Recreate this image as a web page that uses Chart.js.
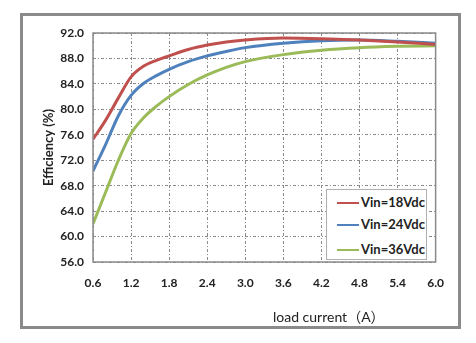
<!DOCTYPE html>
<html>
<head>
<meta charset="utf-8">
<script src="https://cdn.jsdelivr.net/npm/chart.js@4/dist/chart.umd.min.js"></script>
<style>
  body { margin: 0; background: #fff; width: 476px; height: 343px; position: relative; overflow: hidden; }
  #frame { position: absolute; left: 20px; top: 13px; width: 441px; height: 316px; border: 3px solid #8a8a8a; box-sizing: border-box; }
  #xtitle { position: absolute; left: 273px; top: 306px; font: 14px Lato, "Noto Sans CJK SC", sans-serif; color: #222; white-space: nowrap; }
  #legend { position: absolute; left: 326px; top: 189px; width: 101px; height: 71px; background: #fff; border: 1px solid #b0b0b0; box-sizing: border-box; }
  #legend .row { position: absolute; left: 10px; height: 16px; font: bold 13px Lato, sans-serif; color: #222; white-space: nowrap; }
  #legend .swatch { display: inline-block; width: 22px; height: 2px; vertical-align: middle; margin-right: 2px; position: relative; top: -1px; }
</style>
</head>
<body>
<div id="frame"><canvas id="efficiency" width="435" height="310"></canvas></div>
<div id="legend"></div>
<div id="xtitle">load current（A）</div>
<script>
const loadCurrent = [0.6, 0.8, 1.0, 1.2, 1.4, 1.6, 1.8, 2.1, 2.4, 2.7, 3.0, 3.6, 4.2, 4.8, 5.4, 6.0];
const vin18 = [75.3, 78.3, 81.8, 85.1, 86.8, 87.7, 88.4, 89.4, 90.1, 90.6, 90.9, 91.2, 91.1, 90.9, 90.6, 90.2];
const vin24 = [70.3, 74.5, 79.0, 82.2, 84.1, 85.3, 86.3, 87.5, 88.4, 89.1, 89.7, 90.4, 90.8, 90.9, 90.7, 90.4];
const vin36 = [62.0, 67.0, 72.0, 76.2, 78.7, 80.5, 82.0, 83.9, 85.4, 86.6, 87.5, 88.6, 89.3, 89.7, 89.9, 90.0];
const seriesNames = ['Vin=18Vdc', 'Vin=24Vdc', 'Vin=36Vdc'];
const seriesColors = ['#c0504d', '#4f81bd', '#9bbb59'];
const xTicks = [0.6, 1.2, 1.8, 2.4, 3.0, 3.6, 4.2, 4.8, 5.4, 6.0];
const yTicks = [56, 60, 64, 68, 72, 76, 80, 84, 88, 92];

const toPoints = (values) => values.map((v, i) => ({ x: loadCurrent[i], y: v }));

// solid box round the plot area
const plotBox = {
  id: 'plotBox',
  afterDraw(chart) {
    const { ctx, chartArea: a } = chart;
    ctx.save();
    ctx.strokeStyle = '#8a8a8a';
    ctx.lineWidth = 1.5;
    ctx.strokeRect(a.left, a.top, a.right - a.left, a.bottom - a.top);
    ctx.restore();
  },
};

new Chart(document.getElementById('efficiency'), {
  type: 'line',
  data: {
    datasets: [vin18, vin24, vin36].map((values, i) => ({
      label: seriesNames[i],
      data: toPoints(values),
      borderColor: seriesColors[i],
      backgroundColor: seriesColors[i],
      borderWidth: 3,
      pointRadius: 0,
      cubicInterpolationMode: 'monotone',
    })),
  },
  options: {
    responsive: false,
    animation: false,
    layout: {
      padding: { left: 14, right: 21, top: 17, bottom: 34 },
    },
    scales: {
      x: {
        type: 'linear',
        min: 0.6,
        max: 6.0,
        afterBuildTicks: (scale) => {
          scale.ticks = xTicks.map((v) => ({ value: v }));
        },
        afterFit: (scale) => {
          scale.height = 30;
        },
        grid: { color: '#8a8a8a', drawTicks: false },
        border: { display: false, dash: [3, 2, 1, 2] },
        ticks: {
          padding: 14,
          color: '#222',
          font: { family: 'Lato', size: 12, weight: 'bold' },
          callback: (v) => v.toFixed(1),
        },
      },
      y: {
        min: 56,
        max: 92,
        afterBuildTicks: (scale) => {
          scale.ticks = yTicks.map((v) => ({ value: v }));
        },
        afterFit: (scale) => {
          scale.width = 56;
        },
        grid: { color: '#8a8a8a', drawTicks: false },
        border: { display: false, dash: [3, 2, 1, 2] },
        ticks: {
          padding: 9,
          color: '#222',
          font: { family: 'Lato', size: 12, weight: 'bold' },
          callback: (v) => v.toFixed(1),
        },
        title: {
          display: true,
          text: 'Efficiency (%)',
          color: '#222',
          font: { family: 'Lato', size: 13, weight: 'bold' },
        },
      },
    },
    plugins: {
      legend: { display: false },
      tooltip: { enabled: false },
    },
  },
  plugins: [plotBox],
});

const legend = document.getElementById('legend');
const rowTops = [4, 26, 51];
seriesNames.forEach((name, i) => {
  const row = document.createElement('div');
  row.className = 'row';
  row.style.top = rowTops[i] + 'px';
  row.innerHTML = '<span class="swatch" style="background:' + seriesColors[i] + '"></span>' + name;
  legend.appendChild(row);
});
</script>
</body>
</html>
